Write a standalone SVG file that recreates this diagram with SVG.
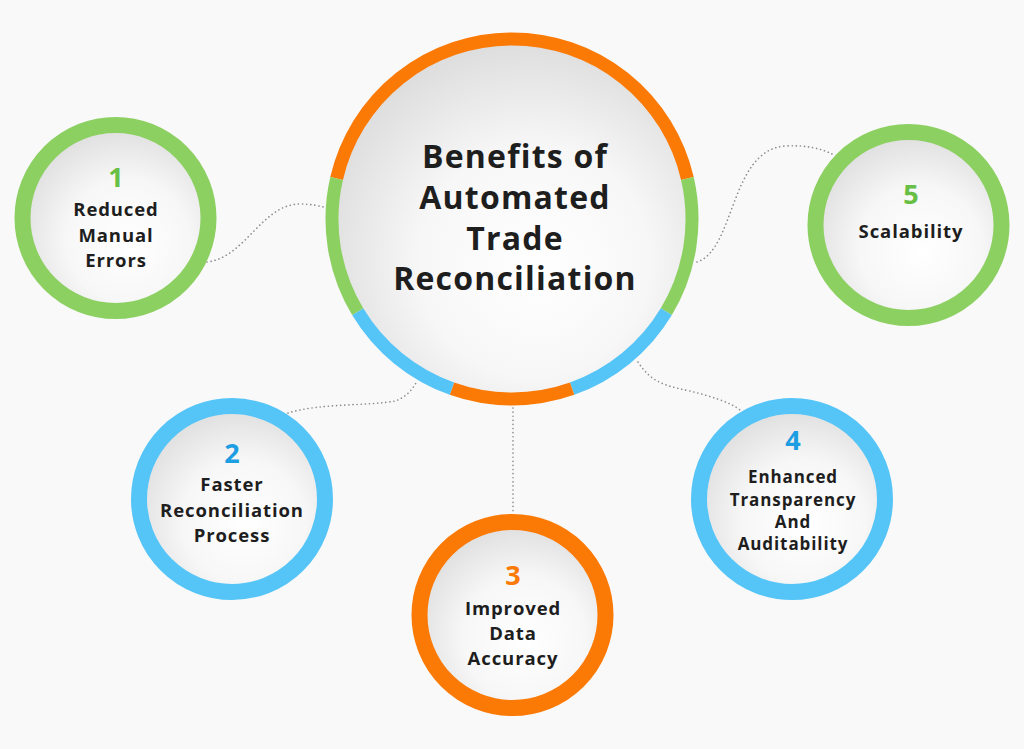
<svg xmlns="http://www.w3.org/2000/svg" width="1024" height="749" viewBox="0 0 1024 749">
<defs>
<radialGradient id="g" cx="0.55" cy="0.6" r="0.6" fx="0.58" fy="0.65">
<stop offset="0" stop-color="#ffffff"/>
<stop offset="0.55" stop-color="#f7f7f7"/>
<stop offset="1" stop-color="#dedede"/>
</radialGradient>
<style>
.t{font-family:"Open Sans","Liberation Sans",sans-serif;font-weight:700;fill:#1e1e1e;text-anchor:middle}
.lbl{font-size:18.5px;letter-spacing:0.9px}
.sm{font-size:17px;letter-spacing:0.9px}
.ttl{font-size:32px;letter-spacing:1.2px}
.num{font-family:"Open Sans","Liberation Sans",sans-serif;font-weight:700;font-size:27px;text-anchor:middle}
.con{fill:none;stroke:#8a8a8a;stroke-width:1.6;stroke-dasharray:0.1 4;stroke-linecap:round}
.arc{fill:none;stroke-width:13}
</style>
</defs>
<rect width="1024" height="749" fill="#f9f9f9"/>
<g id="connectors">
<path class="con" d="M207,262 C245,258 262,204 300,204 C312,204 320,206 327,208"/>
<path class="con" d="M697,262 C735,250 730,150 785,146 C805,145 820,148 832,154"/>
<path class="con" d="M288,413 C320,403 370,406 395,401 C405,398 412,390 416,383"/>
<path class="con" d="M513,408 L513,514"/>
<path class="con" d="M638,362 C650,380 660,385 690,391 C710,396 730,402 740,410"/>
</g>
<g id="center">
<circle cx="512" cy="219" r="175" fill="url(#g)"/>
<path class="arc" stroke="#fb7a05" d="M336.6,178.5 A180,180 0 0 1 687.4,178.5"/>
<path class="arc" stroke="#8dd062" d="M687.4,178.5 A180,180 0 0 1 666.3,311.7"/>
<path class="arc" stroke="#55c4f7" d="M666.3,311.7 A180,180 0 0 1 572.1,388.7"/>
<path class="arc" stroke="#fb7a05" d="M572.1,388.7 A180,180 0 0 1 451.9,388.7"/>
<path class="arc" stroke="#55c4f7" d="M451.9,388.7 A180,180 0 0 1 357.7,311.7"/>
<path class="arc" stroke="#8dd062" d="M357.7,311.7 A180,180 0 0 1 336.6,178.5"/>
<text class="t ttl" x="515" y="168">Benefits of</text>
<text class="t ttl" x="515" y="209">Automated</text>
<text class="t ttl" x="515" y="250">Trade</text>
<text class="t ttl" x="515" y="290">Reconciliation</text>
</g>
<g id="node1">
<circle cx="115.5" cy="218" r="93" fill="url(#g)" stroke="#8dd062" stroke-width="16"/>
<text class="num" fill="#68bf45" x="116" y="187">1</text>
<text class="t lbl" x="116" y="216">Reduced</text>
<text class="t lbl" x="116" y="242">Manual</text>
<text class="t lbl" x="116" y="267">Errors</text>
</g>
<g id="node2">
<circle cx="232" cy="499" r="93" fill="url(#g)" stroke="#55c4f7" stroke-width="16"/>
<text class="num" fill="#1d9de2" x="232" y="463">2</text>
<text class="t lbl" x="232" y="491">Faster</text>
<text class="t lbl" x="232" y="517">Reconciliation</text>
<text class="t lbl" x="232" y="542">Process</text>
</g>
<g id="node3">
<circle cx="512.5" cy="615" r="93" fill="url(#g)" stroke="#fb7a05" stroke-width="16"/>
<text class="num" fill="#fb7a05" x="513" y="585">3</text>
<text class="t lbl" x="513" y="615">Improved</text>
<text class="t lbl" x="513" y="640">Data</text>
<text class="t lbl" x="513" y="665">Accuracy</text>
</g>
<g id="node4">
<circle cx="792" cy="499" r="93" fill="url(#g)" stroke="#55c4f7" stroke-width="16"/>
<text class="num" fill="#1d9de2" x="793" y="450">4</text>
<text class="t sm" x="793" y="483">Enhanced</text>
<text class="t sm" x="793" y="506">Transparency</text>
<text class="t sm" x="793" y="528">And</text>
<text class="t sm" x="793" y="550">Auditability</text>
</g>
<g id="node5">
<circle cx="908.5" cy="225" r="93" fill="url(#g)" stroke="#8dd062" stroke-width="16"/>
<text class="num" fill="#68bf45" x="911" y="204">5</text>
<text class="t lbl" x="911" y="238">Scalability</text>
</g>
</svg>
